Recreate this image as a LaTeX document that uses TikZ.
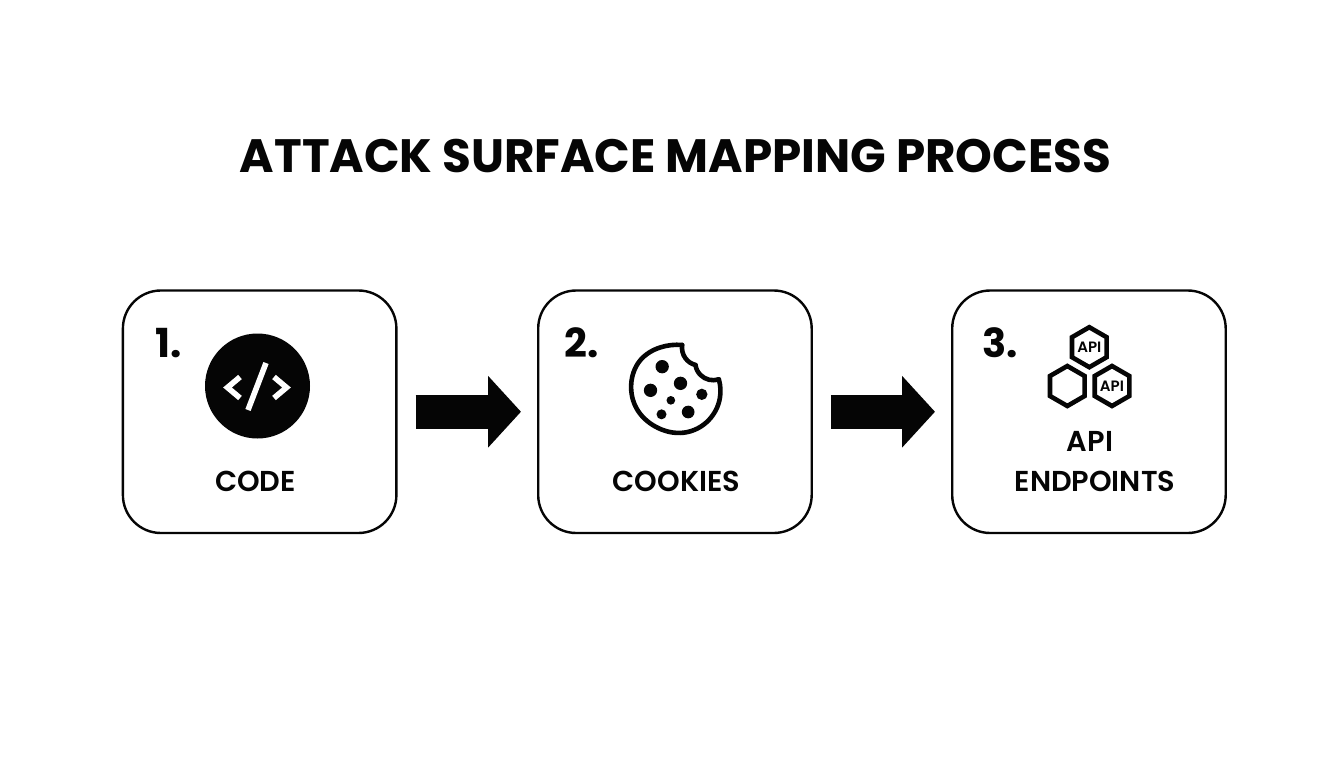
\documentclass[tikz,border=0pt]{standalone}
\usepackage{fontspec}
\setmainfont{Poppins}
\newfontfamily\semifont{Poppins SemiBold}
\usetikzlibrary{hobby,arrows.meta}
\definecolor{ink}{HTML}{050505}
\tikzset{
  use Hobby shortcut,
  every node/.style={text=ink,inner sep=0pt},
  titletext/.style={font=\fontsize{46.8}{47}\selectfont\bfseries,anchor=base},
  steppanel/.style={draw=ink,line width=2.4pt,rounded corners=38pt,minimum width=273.5pt,minimum height=242.5pt,anchor=north west},
  stepnum/.style={font=\fontsize{40}{40}\selectfont\bfseries,anchor=base west},
  steptext/.style={font=\fontsize{28.8}{29}\semifont,anchor=base},
  apitext/.style={font=\fontsize{15}{15}\semifont},
  blockarrow/.style={draw=ink,line width=34pt,-{Triangle[length=33pt,width=70pt]},shorten <=18pt,shorten >=16pt,yshift=-1pt},
  hexline/.style={draw=ink,line width=4.6pt,line join=miter},
  cookieline/.style={draw=ink,line width=4.6pt,line cap=round,line join=round},
  codeline/.style={draw=white,line width=5.6pt,line join=miter},
}
\begin{document}
\begin{tikzpicture}[x=1pt,y=-1pt]
\useasboundingbox[fill=white] (0,0) rectangle (1344,768);
\node[titletext] (heading) at (675.5,172) {ATTACK SURFACE MAPPING PROCESS};

\node[steppanel] (code) at (121.7,289.3) {};
\node[steppanel] (cookies) at (537,289.3) {};
\node[steppanel] (api) at (951,289.3) {};

\draw[blockarrow] (code.east) -- (cookies.west);
\draw[blockarrow] (cookies.east) -- (api.west);

\node[stepnum] (num1) at (155.5,357) {1.};
\node[stepnum] (num2) at (564,357) {2.};
\node[stepnum] (num3) at (982,357) {3.};

\node[steptext] (codelabel) at (255.5,491.5) {CODE};
\node[steptext] (cookielabel) at (676.5,491.5) {COOKIES};
\node[steptext] (apilabel) at (1090,451.5) {API};
\node[steptext] (endpointlabel) at (1095,491.5) {ENDPOINTS};

% code icon
\fill[ink] (257.5,386) circle (52.5);
\draw[codeline] (240,377) -- (227.5,387.5) -- (240,398);
\draw[codeline] (274,377) -- (286.5,387.5) -- (274,398);
\draw[codeline] (266,363) -- (248,410);

% cookie icon
\begin{scope}[shift={(600.5,320)},scale=1/3]
\draw[cookieline] (245,75) .. (255,115) .. (285,135);
\draw[cookieline] (285,135) .. (300,165) .. (355,178);
\draw[cookieline] (355,178) .. (358,235) .. (325,300) .. (250,338) .. (165,320) .. (108,265) .. (92,195) .. (120,120) .. (180,82) .. (245,75);
\foreach \cx/\cy/\cr in {185/140/20,240/190/20,150/211/20,304/223/17,211/241/13,263/276/19,183/283/15}
  \fill[ink] (\cx,\cy) circle (\cr);
\end{scope}

% api icon
\foreach \hx/\hy in {1089.3/347.2,1067.3/386,1112/386}
  \draw[hexline] (\hx,\hy-20) -- ++(17.3,10) -- ++(0,20) -- ++(-17.3,10) -- ++(-17.3,-10) -- ++(0,-20) -- cycle;
\node[apitext] (apia) at (1089.3,347.5) {API};
\node[apitext] (apib) at (1112,386.5) {API};
\end{tikzpicture}
\end{document}
